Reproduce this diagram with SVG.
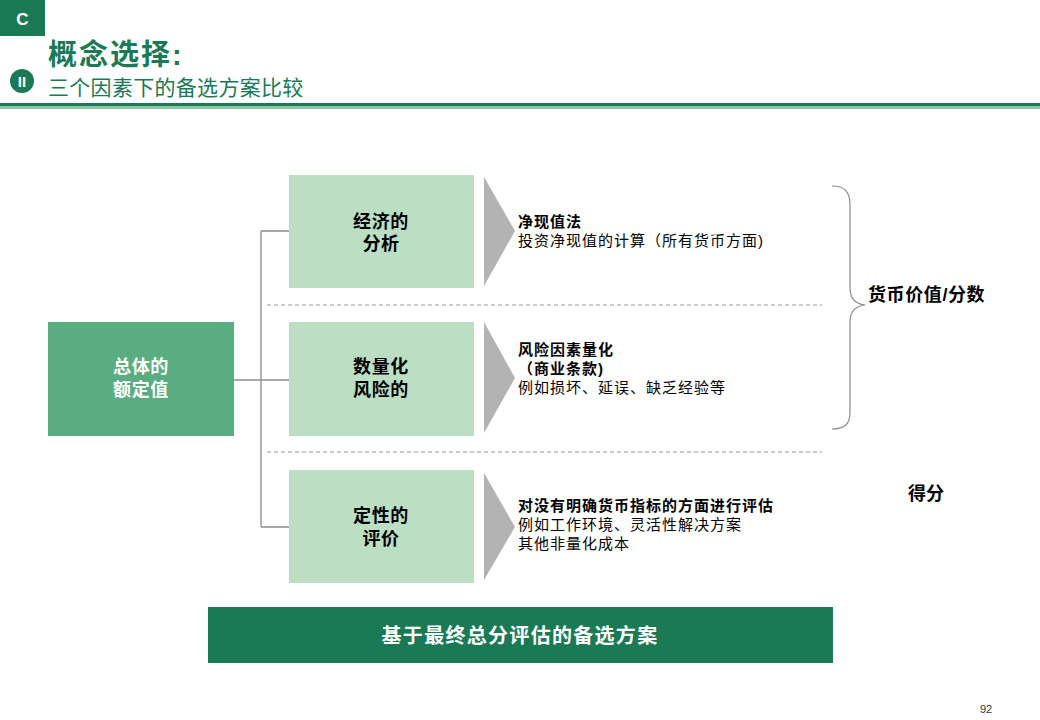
<svg xmlns="http://www.w3.org/2000/svg" width="1040" height="720" viewBox="0 0 1040 720">
<style>
text{font-family:"Liberation Sans","Noto Sans CJK SC",sans-serif}
.box{fill:#bcdfc4}
.lbl{font-size:18px;font-weight:bold;fill:#000;text-anchor:middle;letter-spacing:0.6px}
.tri{fill:#b3b3b3}
.b{font-size:15px;font-weight:bold;fill:#000;letter-spacing:1px}
.n{font-size:15px;fill:#000;letter-spacing:1px}
.conn{stroke:#8c8c8c;stroke-width:1.3;fill:none}
.dash{stroke:#999;stroke-width:1;stroke-dasharray:4 3;fill:none}
</style>
<rect width="1040" height="720" fill="#fff"/>
<g id="header">
<rect x="0" y="0" width="45" height="36" fill="#1a7a56"/>
<text x="22.5" y="25" font-size="17" font-weight="bold" fill="#fff" text-anchor="middle">C</text>
<text x="48" y="65" font-size="29" font-weight="bold" fill="#1a7a56" letter-spacing="2">概念选择:</text>
<circle cx="22" cy="81" r="12" fill="#1a7a56"/>
<text x="22" y="87" font-size="15" font-weight="bold" fill="#fff" text-anchor="middle">II</text>
<text x="48" y="95" font-size="21" fill="#1a7a56" letter-spacing="0.3">三个因素下的备选方案比较</text>
<rect x="0" y="103" width="1040" height="3.5" fill="#1a7a56"/>
<rect x="0" y="106.5" width="1040" height="2.5" fill="#8cc7a5"/>
</g>
<g id="connectors">
<path class="conn" d="M234 380H261M261 231V527M261 231H289M261 380H289M261 527H289"/>
<path class="dash" d="M267 305H822M267 452H822"/>
<path d="M832 186C845 186 850 192 850 205V288C850 299 856 304 865 305C856 306 850 311 850 322V412C850 424 845 429 832 429" stroke="#8c8c8c" stroke-width="1.2" fill="none"/>
</g>
<g id="node-total">
<rect x="48" y="322" width="186" height="114" fill="#5aad80"/>
<text class="lbl" x="141" y="373" style="fill:#fff">总体的</text>
<text class="lbl" x="141" y="396" style="fill:#fff">额定值</text>
</g>
<g id="node-econ">
<rect class="box" x="289" y="175" width="185" height="113"/>
<text class="lbl" x="381" y="228">经济的</text>
<text class="lbl" x="381" y="250">分析</text>
<polygon class="tri" points="484,177 515,231 484,286"/>
<text class="b" x="518" y="227">净现值法</text>
<text class="n" x="518" y="246">投资净现值的计算（所有货币方面)</text>
</g>
<g id="node-risk">
<rect class="box" x="289" y="322" width="185" height="114"/>
<text class="lbl" x="381" y="373">数量化</text>
<text class="lbl" x="381" y="396">风险的</text>
<polygon class="tri" points="484,322 515,378 484,433"/>
<text class="b" x="518" y="355">风险因素量化</text>
<text class="b" x="518" y="374">（商业条款)</text>
<text class="n" x="518" y="393">例如损坏、延误、缺乏经验等</text>
</g>
<g id="node-qual">
<rect class="box" x="289" y="470" width="185" height="113"/>
<text class="lbl" x="381" y="522">定性的</text>
<text class="lbl" x="381" y="545">评价</text>
<polygon class="tri" points="484,473 515,527 484,580"/>
<text class="b" x="518" y="511">对没有明确货币指标的方面进行评估</text>
<text class="n" x="518" y="530">例如工作环境、灵活性解决方案</text>
<text class="n" x="518" y="549">其他非量化成本</text>
</g>
<g id="node-money">
<text x="868" y="301" font-size="18" font-weight="bold" fill="#000" letter-spacing="0.6">货币价值/分数</text>
</g>
<g id="node-score">
<text x="926" y="500" font-size="18" font-weight="bold" fill="#000" text-anchor="middle">得分</text>
</g>
<g id="node-result">
<rect x="208" y="607" width="625" height="56" fill="#1a7a56"/>
<text x="520" y="643" font-size="20" font-weight="bold" fill="#fff" text-anchor="middle" letter-spacing="1.3">基于最终总分评估的备选方案</text>
</g>
<text x="986" y="713" font-size="11" fill="#333" text-anchor="middle">92</text>
</svg>
